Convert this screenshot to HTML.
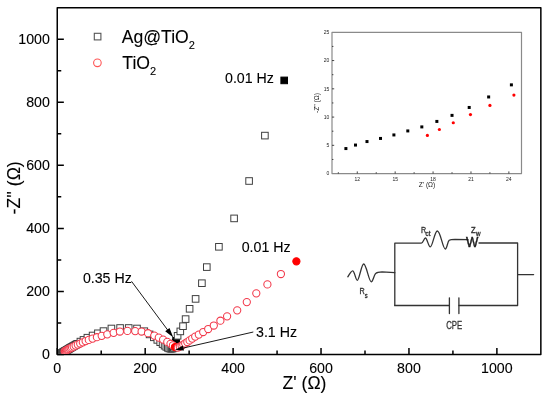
<!DOCTYPE html><html><head><meta charset="utf-8"><title>Nyquist plot</title><style>
html,body{margin:0;padding:0;background:#fff;}svg{display:block;filter:blur(0.4px);}
</style></head><body>
<svg width="550" height="399" viewBox="0 0 550 399">
<rect width="550" height="399" fill="#fff"/>
<g id="inset">
<rect x="332.0" y="32.3" width="189.5" height="141.3" fill="none" stroke="#8a8a8a" stroke-width="1.2" stroke-linejoin="round"/>
<path d="M332.0,145.34h2.2 M332.0,117.08h2.2 M332.0,88.82h2.2 M332.0,60.56h2.2 M332.0,159.47h1.4 M332.0,131.21h1.4 M332.0,102.95h1.4 M332.0,74.69h1.4 M332.0,46.43h1.4 M357.27,173.6v-2.2 M395.17,173.6v-2.2 M433.07,173.6v-2.2 M470.97,173.6v-2.2 M508.87,173.6v-2.2 M338.32,173.6v-1.4 M376.22,173.6v-1.4 M414.12,173.6v-1.4 M452.02,173.6v-1.4 M489.92,173.6v-1.4" stroke="#333" stroke-width="0.9" fill="none"/>
<g font-family='"Liberation Sans", Arial, sans-serif' font-size="5" fill="#222" text-anchor="end">
<text x="329.2" y="175.40">0</text>
<text x="329.2" y="147.14">5</text>
<text x="329.2" y="118.88">10</text>
<text x="329.2" y="90.62">15</text>
<text x="329.2" y="62.36">20</text>
<text x="329.2" y="34.10">25</text>
</g>
<g font-family='"Liberation Sans", Arial, sans-serif' font-size="5" fill="#222" text-anchor="middle">
<text x="357.27" y="181.4">12</text>
<text x="395.17" y="181.4">15</text>
<text x="433.07" y="181.4">18</text>
<text x="470.97" y="181.4">21</text>
<text x="508.87" y="181.4">24</text>
</g>
<text x="427" y="187.3" font-family='"Liberation Sans", Arial, sans-serif' font-size="6.6" fill="#222" text-anchor="middle">Z' (&#937;)</text>
<text transform="translate(319.4,103) rotate(-90)" font-family='"Liberation Sans", Arial, sans-serif' font-size="6.6" fill="#222" text-anchor="middle">-Z'' (&#937;)</text>
<rect x="344.40" y="147.06" width="3" height="3" fill="#000"/>
<rect x="354.00" y="143.56" width="3" height="3" fill="#000"/>
<rect x="365.49" y="140.05" width="3" height="3" fill="#000"/>
<rect x="379.01" y="136.94" width="3" height="3" fill="#000"/>
<rect x="392.40" y="133.44" width="3" height="3" fill="#000"/>
<rect x="406.30" y="129.43" width="3" height="3" fill="#000"/>
<rect x="420.32" y="125.41" width="3" height="3" fill="#000"/>
<rect x="435.36" y="119.93" width="3" height="3" fill="#000"/>
<rect x="450.52" y="113.88" width="3" height="3" fill="#000"/>
<rect x="467.70" y="105.97" width="3" height="3" fill="#000"/>
<rect x="487.15" y="95.46" width="3" height="3" fill="#000"/>
<rect x="509.89" y="83.36" width="3" height="3" fill="#000"/>
<circle cx="427.38" cy="135.45" r="1.6" fill="#f00"/>
<circle cx="439.38" cy="129.51" r="1.6" fill="#f00"/>
<circle cx="453.28" cy="122.73" r="1.6" fill="#f00"/>
<circle cx="470.46" cy="114.54" r="1.6" fill="#f00"/>
<circle cx="489.92" cy="105.44" r="1.6" fill="#f00"/>
<circle cx="513.92" cy="95.04" r="1.6" fill="#f00"/>
</g>
<g id="circuit" fill="none" stroke="#333" stroke-width="1.3" stroke-linejoin="round" stroke-linecap="round">
<path d="M347.8,276.8 C350,273 351.5,270.5 352.8,270.8 C354.6,271.2 355.6,280.3 357.3,280.3 C359.2,280.3 361.4,264 363.7,264 C366.4,264 368.8,281.8 371.3,281.8 C373,281.8 373.6,276 375.5,273.6 C377.2,271.9 379.5,271.8 382,271.8 L394.8,272.6"/>
<path d="M394.8,305.5 V243.2 H421.3 C423,243.3 424,238 425.4,238 C427.2,238 428.4,246.9 430.3,246.9 C432.6,246.9 434.6,231 437.3,231 C440.5,231 442.8,249 445.3,249 C447,249 447.5,241.5 449.2,240.2 C450.5,239.3 452.5,239.3 455,239.3 L468,239.6"/>
<path d="M479.0,243.0 H517.6 V305.5 H458.9 M449.4,305.5 H394.8 M517.6,274.6 H533.6"/>
<path d="M449.4,297.8 V313.5 M458.9,297.8 V313.5"/>
</g>
<text transform="translate(466.0,246.7) scale(0.95,1)" font-family='"Liberation Sans", Arial, sans-serif' font-size="13.8" fill="#1a1a1a" stroke="#1a1a1a" stroke-width="0.45">W</text>
<g font-family='"Liberation Sans", Arial, sans-serif' fill="#333" stroke="#333" stroke-width="0.35">
<text transform="translate(421.0,232.9) scale(0.8,1)" font-size="9">R</text><text transform="translate(425.6,236.3) scale(0.9,1)" font-size="7">ct</text>
<text transform="translate(471.0,232.5) scale(0.85,1)" font-size="9">Z</text><text transform="translate(476.0,236.0) scale(0.9,1)" font-size="7">w</text>
<text transform="translate(359.6,294.4) scale(0.8,1)" font-size="9">R</text><text transform="translate(364.8,297.6) scale(0.9,1)" font-size="6.4">s</text>
<text x="446.2" y="328.7" font-size="10" stroke-width="0.3" textLength="16.0" lengthAdjust="spacingAndGlyphs">CPE</text>
</g>
<rect x="57.25" y="7.7" width="483.60" height="346.80" fill="none" stroke="#000" stroke-width="1.5" stroke-linejoin="round"/>
<path d="M57.25,354.50h6.6 M57.25,354.5v-6.6 M57.25,291.45h6.6 M145.18,354.5v-6.6 M57.25,228.39h6.6 M233.10,354.5v-6.6 M57.25,165.34h6.6 M321.03,354.5v-6.6 M57.25,102.28h6.6 M408.96,354.5v-6.6 M57.25,39.23h6.6 M496.89,354.5v-6.6 M57.25,322.97h4 M101.21,354.5v-4 M57.25,259.92h4 M189.14,354.5v-4 M57.25,196.86h4 M277.07,354.5v-4 M57.25,133.81h4 M365.00,354.5v-4 M57.25,70.75h4 M452.92,354.5v-4" stroke="#000" stroke-width="1.5" fill="none"/>
<g font-family='"Liberation Sans", Arial, sans-serif' font-size="14.2" fill="#000" stroke="#000" stroke-width="0.1" text-anchor="end">
<text x="49.9" y="359.10">0</text>
<text x="49.9" y="296.05">200</text>
<text x="49.9" y="232.99">400</text>
<text x="49.9" y="169.94">600</text>
<text x="49.9" y="106.88">800</text>
<text x="49.9" y="43.83">1000</text>
</g>
<g font-family='"Liberation Sans", Arial, sans-serif' font-size="14.2" fill="#000" stroke="#000" stroke-width="0.1" text-anchor="middle">
<text x="57.25" y="372.9">0</text>
<text x="145.18" y="372.9">200</text>
<text x="233.10" y="372.9">400</text>
<text x="321.03" y="372.9">600</text>
<text x="408.96" y="372.9">800</text>
<text x="496.89" y="372.9">1000</text>
</g>
<text x="282.6" y="388.8" font-family='"Liberation Sans", Arial, sans-serif' font-size="17.6" fill="#000" stroke="#000" stroke-width="0.1">Z' (&#937;)</text>
<text transform="translate(20.1,214.4) rotate(-90)" font-family='"Liberation Sans", Arial, sans-serif' font-size="17.6" fill="#000" stroke="#000" stroke-width="0.1">-Z'' (&#937;)</text>
<rect x="94.3" y="33.3" width="6.6" height="6.6" fill="none" stroke="#555" stroke-width="1.1"/>
<circle cx="97.4" cy="62.8" r="3.8" fill="none" stroke="#f55" stroke-width="1.1"/>
<text x="121.7" y="42.7" font-family='"Liberation Sans", Arial, sans-serif' font-size="17.6" fill="#000" stroke="#000" stroke-width="0.1">Ag@TiO<tspan font-size="11" dy="6">2</tspan></text>
<text x="122.3" y="68.8" font-family='"Liberation Sans", Arial, sans-serif' font-size="17.6" fill="#000" stroke="#000" stroke-width="0.1">TiO<tspan font-size="11" dy="6">2</tspan></text>
<clipPath id="cp"><rect x="58.0" y="8.45" width="482.10" height="345.30"/></clipPath>
<g clip-path="url(#cp)">
<g fill="#fff" stroke="#404040" stroke-width="1.0">
<rect x="58.50" y="349.90" width="6.6" height="6.6"/>
<rect x="58.73" y="349.77" width="6.6" height="6.6"/>
<rect x="58.97" y="349.63" width="6.6" height="6.6"/>
<rect x="59.20" y="349.50" width="6.6" height="6.6"/>
<rect x="59.47" y="349.33" width="6.6" height="6.6"/>
<rect x="59.73" y="349.17" width="6.6" height="6.6"/>
<rect x="60.00" y="349.00" width="6.6" height="6.6"/>
<rect x="60.30" y="348.80" width="6.6" height="6.6"/>
<rect x="60.60" y="348.60" width="6.6" height="6.6"/>
<rect x="60.90" y="348.40" width="6.6" height="6.6"/>
<rect x="61.23" y="348.20" width="6.6" height="6.6"/>
<rect x="61.57" y="348.00" width="6.6" height="6.6"/>
<rect x="61.90" y="347.80" width="6.6" height="6.6"/>
<rect x="62.30" y="347.57" width="6.6" height="6.6"/>
<rect x="62.70" y="347.33" width="6.6" height="6.6"/>
<rect x="63.10" y="347.10" width="6.6" height="6.6"/>
<rect x="63.53" y="346.83" width="6.6" height="6.6"/>
<rect x="63.97" y="346.57" width="6.6" height="6.6"/>
<rect x="64.40" y="346.30" width="6.6" height="6.6"/>
<rect x="64.90" y="345.97" width="6.6" height="6.6"/>
<rect x="65.40" y="345.63" width="6.6" height="6.6"/>
<rect x="65.90" y="345.30" width="6.6" height="6.6"/>
<rect x="66.47" y="344.97" width="6.6" height="6.6"/>
<rect x="67.03" y="344.63" width="6.6" height="6.6"/>
<rect x="67.60" y="344.30" width="6.6" height="6.6"/>
<rect x="68.23" y="343.93" width="6.6" height="6.6"/>
<rect x="68.87" y="343.57" width="6.6" height="6.6"/>
<rect x="69.50" y="343.20" width="6.6" height="6.6"/>
<rect x="70.23" y="342.77" width="6.6" height="6.6"/>
<rect x="70.97" y="342.33" width="6.6" height="6.6"/>
<rect x="71.70" y="341.90" width="6.6" height="6.6"/>
<rect x="72.50" y="341.43" width="6.6" height="6.6"/>
<rect x="73.30" y="340.97" width="6.6" height="6.6"/>
<rect x="74.10" y="340.50" width="6.6" height="6.6"/>
<rect x="77.10" y="338.30" width="6.6" height="6.6"/>
<rect x="80.20" y="336.60" width="6.6" height="6.6"/>
<rect x="84.10" y="334.40" width="6.6" height="6.6"/>
<rect x="89.30" y="332.20" width="6.6" height="6.6"/>
<rect x="94.60" y="330.00" width="6.6" height="6.6"/>
<rect x="100.20" y="327.80" width="6.6" height="6.6"/>
<rect x="108.10" y="325.20" width="6.6" height="6.6"/>
<rect x="116.80" y="324.70" width="6.6" height="6.6"/>
<rect x="125.40" y="324.70" width="6.6" height="6.6"/>
<rect x="133.70" y="325.20" width="6.6" height="6.6"/>
<rect x="141.00" y="327.90" width="6.6" height="6.6"/>
<rect x="146.30" y="331.10" width="6.6" height="6.6"/>
<rect x="150.50" y="334.00" width="6.6" height="6.6"/>
<rect x="154.00" y="336.60" width="6.6" height="6.6"/>
<rect x="156.90" y="338.90" width="6.6" height="6.6"/>
<rect x="159.30" y="340.80" width="6.6" height="6.6"/>
<rect x="161.30" y="342.40" width="6.6" height="6.6"/>
<rect x="163.00" y="343.60" width="6.6" height="6.6"/>
<rect x="164.50" y="344.50" width="6.6" height="6.6"/>
<rect x="165.90" y="345.10" width="6.6" height="6.6"/>
<rect x="167.20" y="345.40" width="6.6" height="6.6"/>
<rect x="168.40" y="345.40" width="6.6" height="6.6"/>
<rect x="169.50" y="345.10" width="6.6" height="6.6"/>
<rect x="170.50" y="344.40" width="6.6" height="6.6"/>
<rect x="171.30" y="343.20" width="6.6" height="6.6"/>
<rect x="171.90" y="341.50" width="6.6" height="6.6"/>
<rect x="172.30" y="339.40" width="6.6" height="6.6"/>
<rect x="172.80" y="337.50" width="6.6" height="6.6" fill="#000" stroke="#000"/>
<rect x="174.30" y="332.50" width="6.6" height="6.6"/>
<rect x="177.00" y="328.10" width="6.6" height="6.6"/>
<rect x="179.70" y="322.90" width="6.6" height="6.6"/>
<rect x="182.30" y="315.80" width="6.6" height="6.6"/>
<rect x="186.30" y="305.50" width="6.6" height="6.6"/>
<rect x="192.30" y="295.60" width="6.6" height="6.6"/>
<rect x="198.60" y="279.90" width="6.6" height="6.6"/>
<rect x="203.50" y="263.80" width="6.6" height="6.6"/>
<rect x="215.60" y="243.50" width="6.6" height="6.6"/>
<rect x="230.80" y="215.10" width="6.6" height="6.6"/>
<rect x="245.80" y="177.70" width="6.6" height="6.6"/>
<rect x="261.60" y="132.30" width="6.6" height="6.6"/>
<rect x="280.90" y="77.10" width="6.6" height="6.6" fill="#000" stroke="#000"/>
</g>
<g fill="#fff" stroke="#f2384a" stroke-width="1.05">
<circle cx="64.60" cy="351.30" r="3.6"/>
<circle cx="65.00" cy="351.10" r="3.6"/>
<circle cx="65.50" cy="350.80" r="3.6"/>
<circle cx="66.10" cy="350.50" r="3.6"/>
<circle cx="66.80" cy="350.10" r="3.6"/>
<circle cx="67.60" cy="349.70" r="3.6"/>
<circle cx="68.50" cy="349.20" r="3.6"/>
<circle cx="69.50" cy="348.70" r="3.6"/>
<circle cx="70.70" cy="348.10" r="3.6"/>
<circle cx="72.10" cy="347.40" r="3.6"/>
<circle cx="73.70" cy="346.60" r="3.6"/>
<circle cx="75.60" cy="345.60" r="3.6"/>
<circle cx="77.80" cy="344.60" r="3.6"/>
<circle cx="80.20" cy="343.50" r="3.6"/>
<circle cx="82.80" cy="342.30" r="3.6"/>
<circle cx="85.60" cy="341.10" r="3.6"/>
<circle cx="88.80" cy="339.90" r="3.6"/>
<circle cx="92.60" cy="338.60" r="3.6"/>
<circle cx="96.90" cy="337.20" r="3.6"/>
<circle cx="101.70" cy="335.80" r="3.6"/>
<circle cx="107.30" cy="334.30" r="3.6"/>
<circle cx="113.60" cy="332.80" r="3.6"/>
<circle cx="119.90" cy="331.50" r="3.6"/>
<circle cx="127.40" cy="330.90" r="3.6"/>
<circle cx="135.20" cy="331.10" r="3.6"/>
<circle cx="141.60" cy="331.50" r="3.6"/>
<circle cx="148.00" cy="333.20" r="3.6"/>
<circle cx="154.30" cy="335.60" r="3.6"/>
<circle cx="158.80" cy="337.60" r="3.6"/>
<circle cx="163.10" cy="339.60" r="3.6"/>
<circle cx="167.30" cy="341.90" r="3.6"/>
<circle cx="170.50" cy="343.80" r="3.6"/>
<circle cx="172.90" cy="345.40" r="3.6"/>
<circle cx="175.00" cy="347.00" r="3.6" fill="#f00" stroke="#f00"/>
<circle cx="177.80" cy="347.70" r="3.6"/>
<circle cx="179.80" cy="346.70" r="3.6"/>
<circle cx="181.60" cy="345.70" r="3.6"/>
<circle cx="183.30" cy="344.70" r="3.6"/>
<circle cx="185.20" cy="343.40" r="3.6"/>
<circle cx="187.30" cy="342.00" r="3.6"/>
<circle cx="189.60" cy="340.40" r="3.6"/>
<circle cx="192.20" cy="338.60" r="3.6"/>
<circle cx="195.20" cy="336.60" r="3.6"/>
<circle cx="198.80" cy="334.60" r="3.6"/>
<circle cx="203.20" cy="332.00" r="3.6"/>
<circle cx="208.20" cy="329.00" r="3.6"/>
<circle cx="213.80" cy="325.50" r="3.6"/>
<circle cx="220.40" cy="320.70" r="3.6"/>
<circle cx="227.10" cy="316.30" r="3.6"/>
<circle cx="237.20" cy="310.30" r="3.6"/>
<circle cx="246.80" cy="302.10" r="3.6"/>
<circle cx="256.30" cy="293.30" r="3.6"/>
<circle cx="267.40" cy="284.40" r="3.6"/>
<circle cx="280.90" cy="274.00" r="3.6"/>
<circle cx="296.40" cy="261.30" r="3.6" fill="#f00" stroke="#f00"/>
</g>
</g>
<g font-family='"Liberation Sans", Arial, sans-serif' font-size="14.2" fill="#000" stroke="#000" stroke-width="0.1">
<text x="225.0" y="83.4">0.01 Hz</text>
<text x="241.7" y="251.6">0.01 Hz</text>
<text x="82.9" y="282.9">0.35 Hz</text>
<text x="256.0" y="336.5">3.1 Hz</text>
</g>
<path d="M131.5,281.3 L167.8,330.2 M253.3,332.0 L182.6,348.2" stroke="#000" stroke-width="0.9" fill="none"/>
<path d="M173.3,337.6 L165.2,331.2 L169.5,328.0 Z M175.0,349.9 L182.8,345.4 L184.0,350.5 Z" fill="#000"/>
</svg></body></html>
